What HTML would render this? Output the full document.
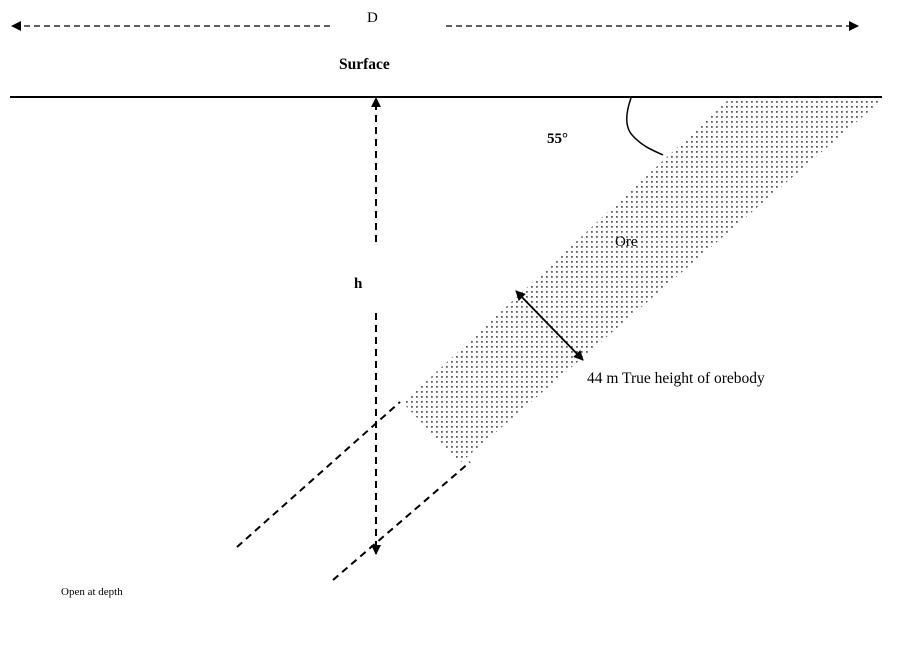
<!DOCTYPE html>
<html><head><meta charset="utf-8"><style>
html,body{margin:0;padding:0;background:#fff;}
svg{display:block;font-family:"Liberation Serif",serif;}
</style></head><body>
<svg width="900" height="655" viewBox="0 0 900 655" xmlns="http://www.w3.org/2000/svg">
<defs>
<pattern id="dots" width="5" height="5" patternUnits="userSpaceOnUse">
<rect x="1" y="1" width="1.8" height="1.8" fill="#444"/>
</pattern>
<marker id="ah" markerWidth="10" markerHeight="10" refX="9" refY="5" orient="auto" markerUnits="userSpaceOnUse">
<path d="M0,0 L10,5 L0,10 z" fill="#000"/>
</marker>
<marker id="ahs" markerWidth="10" markerHeight="10" refX="1" refY="5" orient="auto" markerUnits="userSpaceOnUse">
<path d="M10,0 L0,5 L10,10 z" fill="#000"/>
</marker>
</defs>
<polygon points="728,100 882,100 460,463 403,403" fill="url(#dots)" opacity="0.85"/>
<line x1="10" y1="97" x2="882" y2="97" stroke="#000" stroke-width="2"/>
<line x1="330" y1="26" x2="12" y2="26" stroke="#000" stroke-width="1.3" stroke-dasharray="6,4" marker-end="url(#ah)"/>
<line x1="446" y1="26" x2="858" y2="26" stroke="#000" stroke-width="1.3" stroke-dasharray="6,4" marker-end="url(#ah)"/>
<text x="367" y="22" font-size="15">D</text>
<text x="339" y="69" font-size="15.5" font-weight="bold">Surface</text>
<line x1="376" y1="242" x2="376" y2="98" stroke="#000" stroke-width="2" stroke-dasharray="7,5" marker-end="url(#ah)"/>
<line x1="376" y1="313" x2="376" y2="554" stroke="#000" stroke-width="2" stroke-dasharray="7,5" marker-end="url(#ah)"/>
<text x="354" y="288" font-size="15" font-weight="bold">h</text>
<path d="M631,98 C625,115 625,128 633,136 C642,146 652,150 663,155" fill="none" stroke="#000" stroke-width="1.5"/>
<text x="547" y="143" font-size="15" font-weight="bold">55°</text>
<text x="615" y="246" font-size="15">Ore</text>
<line x1="516" y1="291" x2="583" y2="360" stroke="#000" stroke-width="1.8" marker-end="url(#ah)" marker-start="url(#ahs)"/>
<text x="587" y="383" font-size="15.5">44 m True height of orebody</text>
<line x1="237" y1="547" x2="400" y2="402" stroke="#000" stroke-width="2" stroke-dasharray="7,5"/>
<line x1="333" y1="580" x2="470" y2="462" stroke="#000" stroke-width="2" stroke-dasharray="7,5"/>
<text x="61" y="595" font-size="11">Open at depth</text>
</svg>
</body></html>
